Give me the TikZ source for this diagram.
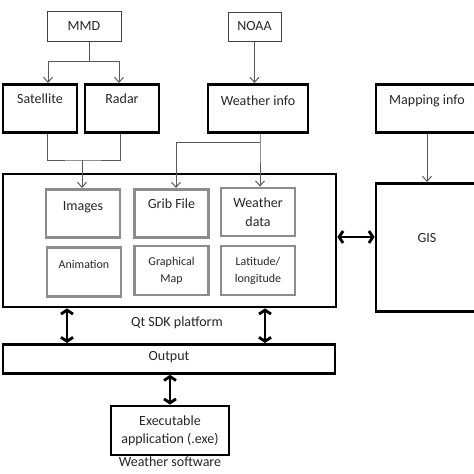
\documentclass[tikz,border=0pt]{standalone}
\usepackage{fontspec}
\setmainfont{Carlito}
\usetikzlibrary{arrows.meta}
\begin{document}
\begin{tikzpicture}[x=1pt,y=-1pt,
  every node/.style={font=\fontsize{14}{16}\selectfont, text=black!85},
  thinbox/.style={draw=black!75, line width=1pt, rectangle, inner sep=0pt},
  thickbox/.style={draw=black, line width=2.8pt, rectangle, inner sep=0pt},
  innerbox/.style={draw=black!45, line width=2.8pt, rectangle, inner sep=0pt, minimum width=74pt},
  conn/.style={draw=black!65, line width=1pt},
  arr/.style={conn, -{Straight Barb[length=5pt,width=9pt]}},
  dbl/.style={draw=black, line width=2.8pt, {Straight Barb[length=4pt,width=12pt]}-{Straight Barb[length=4pt,width=12pt]}},
  small/.style={font=\fontsize{12}{17}\selectfont}]
\useasboundingbox (0,0) rectangle (474,474);

% top sources
\node[thinbox, minimum width=74pt, minimum height=30pt] (mmd) at (84,26) {MMD};
\node[thinbox, minimum width=53pt, minimum height=29pt] (noaa) at (254.5,26.5) {NOAA};

% second row
\node[thickbox, anchor=north, minimum width=74pt, text height=19.5pt, text depth=28.5pt] (sat) at (40,83) {Satellite};
\node[thickbox, anchor=north, minimum width=74pt, text height=19.5pt, text depth=28.5pt] (radar) at (122,83) {Radar};
\node[thickbox, anchor=north, minimum width=100pt, text height=21.5pt, text depth=26.5pt] (winfo) at (258,83) {Weather info};
\node[thickbox, anchor=north, minimum width=102pt, text height=20.5pt, text depth=27.5pt] (map) at (427,83) {Mapping info};

% Qt platform box
\node[thickbox, minimum width=333pt, minimum height=133pt] (qt) at (169.5,240.5) {};
\node (qtlbl) at (177,323) {Qt SDK platform};

% inner boxes
\node[innerbox, anchor=north, text height=21.5pt, text depth=26.5pt] (images) at (83,188) {Images};
\node[innerbox, anchor=north, text height=19.5pt, text depth=28.5pt] (grib) at (171.5,188) {Grib File};
\node[innerbox, minimum height=48pt, align=center, font=\fontsize{14}{19}\selectfont] (wdata) at (258,212) {Weather\\data};
\node[innerbox, small, anchor=north, text height=21pt, text depth=28pt] (anim) at (84,246) {Animation};
\node[innerbox, small, minimum height=49pt, align=center] (gmap) at (171.5,270.5) {Graphical\\Map};
\node[innerbox, small, minimum height=49pt, align=center] (latlon) at (258,270.5) {Latitude/\\longitude};

% GIS
\node[thickbox, anchor=north, minimum width=102pt, text height=59.5pt, text depth=68.5pt] (gis) at (427,182) {GIS};

% Output and executable
\node[thickbox, minimum width=332pt, text height=16.5pt, text depth=12.5pt, anchor=north] (out) at (169,343) {Output};
\node[thickbox, minimum width=118pt, minimum height=49pt, align=center, font=\fontsize{14}{18}\selectfont] (exe) at (170,430.5) {Executable\\application (.exe)};
\node (wsw) at (170,462) {Weather software};

% connectors: MMD
\coordinate (mmdj) at (89,61);
\draw[conn] ([xshift=5pt]mmd.south) -- (mmdj);
\draw[arr] (mmdj) -| ([xshift=8pt]sat.north);
\draw[arr] (mmdj) -| ([xshift=-3pt]radar.north);

% NOAA
\draw[arr] (noaa.south) -- (noaa.south |- winfo.north);

% satellite/radar to images
\coordinate (srj) at (82,160);
\draw[conn] ([xshift=7pt]sat.south) |- (srj) -| ([xshift=-2pt]radar.south);
\draw[arr] (srj) -- (srj |- images.north);

% weather info to grib and weather data
\coordinate (wj) at (260,142);
\draw[arr] ([xshift=2pt]winfo.south) -- (wj) -- (wj |- wdata.north);
\draw[arr] (wj) -| ([xshift=4.5pt]grib.north);

% mapping info to GIS
\draw[arr] (map.south) -- (gis.north);

% double arrows
\draw[dbl] (qt.east |- 0,237) -- (gis.west |- 0,237);
\draw[dbl] (qt.south -| 67,0) -- (out.north -| 67,0);
\draw[dbl] (qt.south -| 265,0) -- (out.north -| 265,0);
\draw[dbl] (out.south -| 170,0) -- (exe.north);
\end{tikzpicture}
\end{document}
